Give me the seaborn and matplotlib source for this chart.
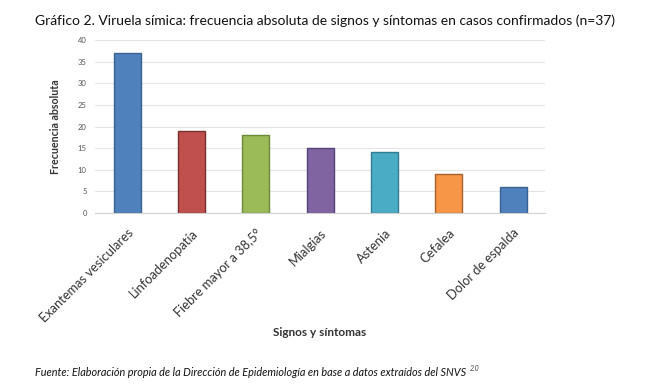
import pandas as pd
import matplotlib.pyplot as plt
import seaborn as sns

# datos
sintomas = ["Exantemas vesiculares", "Linfoadenopatía", "Fiebre mayor a 38,5°",
            "Mialgias", "Astenia", "Cefalea", "Dolor de espalda"]
frecuencia = [37, 19, 18, 15, 14, 9, 6]
colores = ["#4F81BD", "#C0504D", "#9BBB59", "#8064A2", "#4BACC6", "#F79646", "#4F81BD"]
bordes = ["#3A6190", "#7A2E2C", "#6A8A35", "#56427A", "#327D92", "#A8602A", "#3A6190"]

df = pd.DataFrame({"Sintoma": sintomas, "Frecuencia": frecuencia})

sns.set_style("white")
plt.rcParams['font.family'] = ['Lato', 'DejaVu Sans']

fig = plt.figure(figsize=(6.46, 3.9), dpi=100)
ax = fig.add_axes([0.147, 0.454, 0.697, 0.443])

sns.barplot(data=df, x="Sintoma", y="Frecuencia", hue="Sintoma",
            palette=colores, saturation=1, width=0.42, legend=False, ax=ax)
for patch, ec in zip(ax.patches, bordes):
    patch.set_edgecolor(ec)
    patch.set_linewidth(1.0)

ax.set_ylim(0, 40)
ax.set_yticks(range(0, 41, 5))
ax.yaxis.grid(True, color="#e3e3e3", linewidth=0.8)
ax.set_axisbelow(True)
for s in ["top", "right", "left"]:
    ax.spines[s].set_visible(False)
ax.spines["bottom"].set_color("#d0d0d0")

ax.tick_params(axis="y", labelsize=5.5, labelcolor="#555555", length=0, pad=6)
ax.tick_params(axis="x", labelsize=9.3, labelcolor="#333333", length=0, pad=10)
plt.setp(ax.get_xticklabels(), rotation=45, ha="right", rotation_mode="anchor")

ax.set_xlabel("Signos y síntomas", fontsize=8.5, fontweight="bold", color="#333333", labelpad=2)
ax.set_ylabel("Frecuencia absoluta", fontsize=7.7, fontweight="bold", color="#333333", labelpad=12)

fig.text(0.054, 0.948, "Gráfico 2. Viruela símica: frecuencia absoluta de signos y síntomas en casos confirmados (n=37)",
         fontsize=10, color="#111111", va="center")
fig.text(0.054, 0.046, "Fuente: Elaboración propia de la Dirección de Epidemiología en base a datos extraídos del SNVS",
         fontsize=7.85, style="italic", color="#111111", va="center")
fig.text(0.727, 0.056, "2.0", fontsize=5, style="italic", color="#444444", va="center")

plt.savefig("out.png", dpi=100)
